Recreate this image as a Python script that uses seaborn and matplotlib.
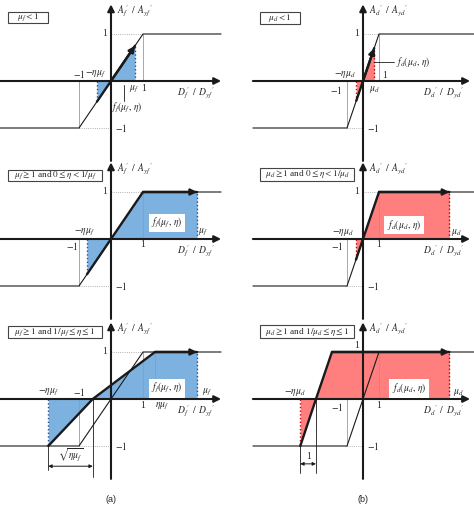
import matplotlib
matplotlib.use('Agg')
import matplotlib.pyplot as plt
from matplotlib.patches import Rectangle
import seaborn as sns

W, H = 474, 507

### values (normalised displacement / force)
# left column (a): frame, right column (b): damper, rows 1..3
a_path_x = [[-0.44, 0, 0.75], [-0.75, 0, 1, 2.69], [-1.96, -0.57, 1.375, 2.69]]
a_path_y = [[-0.44, 0, 0.75], [-0.75, 0, 1, 1], [-1, 0, 1, 1]]
b_path_x = [[-0.42, 0, 0.70], [-0.44, 0, 1, 5.4], [-3.92, -2.94, -1.94, 5.4]]
b_path_y = [[-0.42, 0, 0.70], [-0.44, 0, 1, 1], [-1, 0, 1, 1]]
backbone_x = [-1, 1]
backbone_y = [-1, 1]

a_titles = [r'$\mu_f < 1$',
            r'$\mu_f \geq 1$ and $0 \leq \eta < 1/\mu_f$',
            r'$\mu_f \geq 1$ and $1/\mu_f \leq \eta \leq 1$']
b_titles = [r'$\mu_d < 1$',
            r'$\mu_d \geq 1$ and $0 \leq \eta < 1/\mu_d$',
            r'$\mu_d \geq 1$ and $1/\mu_d \leq \eta \leq 1$']

sns.set_theme(style='white')
plt.rcParams['font.family'] = ['Liberation Serif', 'DejaVu Serif']
plt.rcParams['mathtext.fontset'] = 'stix'

fig = plt.figure(figsize=(4.74, 5.07), dpi=100)

BLUE, RED = '#7db1e0', '#ff7f7f'
FS = 6.9


def panel(left, top, width, height, ox, oy, ux, uy=47):
    ax = fig.add_axes([left / W, 1 - (top + height) / H, width / W, height / H])
    ax.set_xlim((left - ox) / ux, (left + width - ox) / ux)
    ax.set_ylim((oy - top - height) / uy, (oy - top) / uy)
    ax.axis('off')
    ax.patch.set_alpha(0)
    return ax


def lab(ax, s, x, y, dx=0, dy=0, ha='center', va='center', fs=FS, **kw):
    ax.annotate(s, xy=(x, y), xytext=(dx, dy), textcoords='offset pixels',
                ha=ha, va=va, fontsize=fs, zorder=8, annotation_clip=False, **kw)


def draw(ax, px, py, fill, edge, ends, axis_x, sub, one_dy=0):
    xl, xr = ends
    # shaded dissipated energy
    ax.fill_between(px, py, 0, color=fill, lw=0, zorder=1)
    for xv, yv in [(px[0], py[0]), (px[-1], py[-1])]:
        ax.plot([xv, xv], [0, yv], ls=':', color=edge, lw=1.0, zorder=2, clip_on=False)
    # thin grey reference lines
    g = dict(color='#9a9a9a', lw=0.6, zorder=2, clip_on=False)
    ax.plot([0, 1], [1, 1], ls=':', **g)
    ax.plot([1, 1], [0, 1], **g)
    ax.plot([-1, -1], [0, -1], **g)
    ax.plot([-1, 0], [-1, -1], ls=':', **g)
    # elastic-perfectly-plastic backbone
    sns.lineplot(x=[xl] + backbone_x + [xr], y=[-1] + backbone_y + [1], sort=False,
                 estimator=None, color='k', lw=0.8, ax=ax, zorder=3)
    # bold response path with arrow
    sns.lineplot(x=px, y=py, sort=False, estimator=None, color='k', lw=1.7, ax=ax, zorder=4)
    ax.annotate('', xy=(px[-1], py[-1]), xytext=(px[-2], py[-2]),
                arrowprops=dict(arrowstyle='-|>', lw=1.7, color='k', mutation_scale=9,
                                shrinkA=0, shrinkB=0), zorder=5, annotation_clip=False)
    # axes
    ap = dict(arrowstyle='-|>', lw=1.5, color='k', mutation_scale=10, shrinkA=0, shrinkB=0)
    ax.annotate('', xy=(axis_x[1], 0), xytext=(axis_x[0], 0), arrowprops=ap,
                zorder=6, annotation_clip=False)
    ax.annotate('', xy=(0, 1.63), xytext=(0, -1.7), arrowprops=ap,
                zorder=6, annotation_clip=False)
    lab(ax, r"$A_%s{}'\ \,/\ \,A_{y%s}{}'$" % (sub, sub), 0, 1.5, 6, 0, ha='left')
    lab(ax, r"$D_%s{}'\ \,/\ \,D_{y%s}{}'$" % (sub, sub), axis_x[1], 0, -6, -11, ha='right')
    lab(ax, '1', 0, 1, -4, one_dy, ha='right')
    lab(ax, r'$-1$', 0, -1, 4, 0, ha='left')


def title_box(x0, y0, x1, y1, s):
    fig.patches.append(Rectangle((x0 / W, 1 - y1 / H), (x1 - x0) / W, (y1 - y0) / H,
                                 transform=fig.transFigure, fill=False, ec='#444444', lw=0.8))
    fig.text((x0 + x1) / 2 / W, 1 - (y0 + y1) / 2 / H, s, ha='center', va='center',
             fontsize=6.7)


a_ends, a_axis = (-3.47, 3.44), (-3.47, 3.44)
b_ends, b_axis = (-6.88, 6.94), (-6.88, 6.69)
wbox = dict(boxstyle='square,pad=0.25', fc='white', ec='none')

# ---------- row 1
ax = panel(0, 0, 237, 162, 111, 81, 32)
draw(ax, a_path_x[0], a_path_y[0], BLUE, '#1f4f96', a_ends, a_axis, 'f')
lab(ax, r'$-1$', -1, 0, 0, 1, va='bottom')
lab(ax, r'$-\eta\mu_f$', a_path_x[0][0], 0, -1, 1, va='bottom')
lab(ax, r'$\mu_f$', a_path_x[0][-1], 0, -1, -3, va='top')
lab(ax, '1', 1, 0, 1, -3, va='top')
ax.plot([0.41, 0.41], [-0.09, -0.42], color='k', lw=0.6, zorder=5)
lab(ax, r'$f_f(\mu_f,\,\eta)$', 0.5, -0.58)

ax = panel(237, 0, 237, 162, 363, 81, 16)
draw(ax, b_path_x[0], b_path_y[0], RED, '#c00000', b_ends, b_axis, 'd')
lab(ax, r'$-\eta\mu_d$', b_path_x[0][0], 0, 0, 1, ha='right', va='bottom')
lab(ax, r'$-1$', -1, 0, -5, -3, ha='right', va='top')
lab(ax, '1', 1, 0, 3, 1, ha='left', va='bottom')
lab(ax, r'$\mu_d$', b_path_x[0][-1], 0, 0, -3, va='top')
ax.plot([0.69, 1.94], [0.4, 0.4], color='k', lw=0.6, zorder=5)
lab(ax, r'$f_d(\mu_d,\,\eta)$', 2.06, 0.4, ha='left')

# ---------- row 2
ax = panel(0, 150, 237, 172, 111, 239, 32)
draw(ax, a_path_x[1], a_path_y[1], BLUE, '#1f4f96', a_ends, a_axis, 'f')
lab(ax, r'$-\eta\mu_f$', a_path_x[1][0], 0, -2, 1, va='bottom')
lab(ax, r'$-1$', -1, 0, -1, -1, ha='right', va='top')
lab(ax, '1', 1, 0, 0, -1, va='top')
lab(ax, r'$\mu_f$', a_path_x[1][-1], 0, 1, 1, ha='left', va='bottom')
lab(ax, r'$f_f(\mu_f,\,\eta)$', 1.75, 0.34, bbox=wbox)

ax = panel(237, 150, 237, 172, 363, 239, 16)
draw(ax, b_path_x[1], b_path_y[1], RED, '#c00000', b_ends, b_axis, 'd')
lab(ax, r'$-\eta\mu_d$', b_path_x[1][0], 0, -2, 1, ha='right', va='bottom')
lab(ax, r'$-1$', -1, 0, -4, -1, ha='right', va='top')
lab(ax, '1', 1, 0, 0, -1, va='top')
lab(ax, r'$\mu_d$', b_path_x[1][-1], 0, 2, 1, ha='left', va='bottom')
lab(ax, r'$f_d(\mu_d,\,\eta)$', 2.56, 0.30, bbox=wbox)

# ---------- row 3
ax = panel(0, 300, 237, 190, 111, 399, 32)
draw(ax, a_path_x[2], a_path_y[2], BLUE, '#1f4f96', a_ends, a_axis, 'f')
ax.plot([a_path_x[2][2]] * 2, [0, 1], color='#9a9a9a', lw=0.6, zorder=2)
lab(ax, r'$-\eta\mu_f$', a_path_x[2][0], 0, 0, 1, va='bottom')
lab(ax, r'$-1$', -1, 0, 0, 1, va='bottom')
lab(ax, '1', 1, 0, 0, -2, va='top')
lab(ax, r'$\eta\mu_f$', a_path_x[2][2], 0, 7, -2, va='top')
lab(ax, r'$\mu_f$', a_path_x[2][-1], 0, 5, 1, ha='left', va='bottom')
lab(ax, r'$f_f(\mu_f,\,\eta)$', 1.75, 0.23, bbox=wbox)
x0, x1 = a_path_x[2][0], a_path_x[2][1]
ax.plot([x0, x0], [-1, -1.52], color='k', lw=0.6, clip_on=False)
ax.plot([x1, x1], [0, -1.66], color='k', lw=0.6, clip_on=False)
ax.annotate('', xy=(x1, -1.43), xytext=(x0, -1.43),
            arrowprops=dict(arrowstyle='<|-|>', lw=0.7, color='k', mutation_scale=5,
                            shrinkA=0, shrinkB=0), annotation_clip=False)
lab(ax, r'$\sqrt{\eta\mu_f}$', (x0 + x1) / 2, -1.36, 0, 0, va='bottom')

ax = panel(237, 300, 237, 190, 363, 399, 16)
draw(ax, b_path_x[2], b_path_y[2], RED, '#c00000', b_ends, b_axis, 'd', one_dy=7)
lab(ax, r'$-\eta\mu_d$', b_path_x[2][0], 0, -5, 1, va='bottom')
lab(ax, r'$-1$', -1, 0, -4, -2, ha='right', va='top')
lab(ax, '1', 1, 0, 0, -2, va='top')
lab(ax, r'$\mu_d$', b_path_x[2][-1], 0, 4, 1, ha='left', va='bottom')
lab(ax, r'$f_d(\mu_d,\,\eta)$', 2.88, 0.23, bbox=wbox)
x0, x1 = b_path_x[2][0], b_path_x[2][1]
ax.plot([x0, x0], [-1, -1.57], color='k', lw=0.6, clip_on=False)
ax.plot([x1, x1], [0, -1.57], color='k', lw=0.6, clip_on=False)
ax.annotate('', xy=(x1, -1.38), xytext=(x0, -1.38),
            arrowprops=dict(arrowstyle='<|-|>', lw=0.7, color='k', mutation_scale=5,
                            shrinkA=0, shrinkB=0), annotation_clip=False)
lab(ax, '1', (x0 + x1) / 2, -1.32, 0, 0, va='bottom')

# ---------- condition boxes and captions
boxes_a = [(8, 12, 48, 23), (8, 170, 102, 181), (8, 326, 102, 338)]
boxes_b = [(260, 12, 300, 24), (260, 168, 354, 181), (260, 325, 354, 338)]
for (bx, s) in zip(boxes_a, a_titles):
    title_box(*bx, s)
for (bx, s) in zip(boxes_b, b_titles):
    title_box(*bx, s)

fig.text(111 / W, 1 - 500 / H, '(a)', ha='center', va='center', fontsize=6.5,
         family='Liberation Sans')
fig.text(363 / W, 1 - 500 / H, '(b)', ha='center', va='center', fontsize=6.5,
         family='Liberation Sans')

fig.savefig('out.png', dpi=100)
